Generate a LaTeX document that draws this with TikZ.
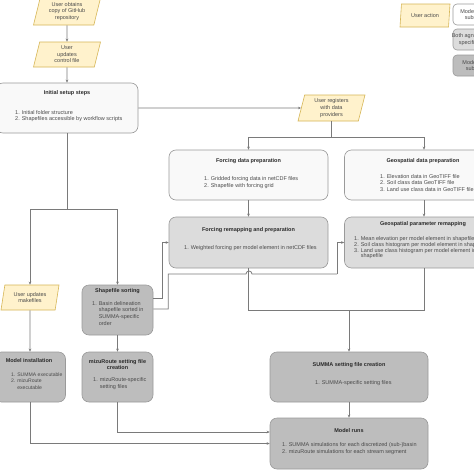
\documentclass[tikz,border=0pt]{standalone}
\usepackage{fontspec}
\setmainfont{Liberation Sans}
\usetikzlibrary{arrows.meta,shapes.geometric,calc}
\definecolor{parfill}{HTML}{FFF2CC}
\definecolor{parline}{HTML}{D6B656}
\definecolor{cW}{HTML}{F9F9F9}
\definecolor{cL}{HTML}{DCDCDC}
\definecolor{cD}{HTML}{BDBDBD}
\definecolor{boxline}{HTML}{9A9A9A}
\definecolor{linec}{HTML}{7A7A7A}
\definecolor{titlec}{HTML}{2A2A2A}
\definecolor{itemc}{HTML}{4A4A4A}
\tikzset{
  box/.style={draw=boxline, rounded corners=7pt, line width=0.6pt, inner sep=0pt},
  ttl/.style={font=\fontsize{5.5}{6.8}\selectfont\bfseries, text=titlec, align=center, inner sep=0pt},
  itm/.style={font=\fontsize{5.5}{6.7}\selectfont, text=itemc, align=left, inner sep=0pt, anchor=west},
  para/.style={trapezium, trapezium left angle=70, trapezium right angle=110, trapezium stretches body,
    draw=parline, fill=parfill, line width=0.6pt, inner sep=0pt, align=center, text=itemc,
    font=\fontsize{5.5}{6.6}\selectfont},
  ln/.style={draw=linec, line width=0.8pt},
  arr/.style={ln, -{Stealth[length=3pt,width=2.6pt]}},
}
\newcommand{\ind}{\phantom{1. }}
\begin{document}
\begin{tikzpicture}[x=1pt,y=-1pt]
\path[use as bounding box] (0,0) rectangle (474,474);
\clip (0,0) rectangle (474,474);
\fill[white] (0,0) rectangle (474,474);

% parallelograms (user actions)
\node[para, minimum width=67, minimum height=27] (p1) at (67,11.5) {User obtains\\copy of GitHub\\repository};
\node[para, minimum width=67, minimum height=25] (p2) at (67,54.5) {User\\updates\\control file};
\node[para, minimum width=67, minimum height=26] (p3) at (331.5,108) {User registers\\with data\\providers};
\node[para, minimum width=58, minimum height=25] (p4) at (30,297.5) {User updates\\makefiles};
\node[para, minimum width=50, minimum height=23] (leg) at (425,15.5) {User action};

% legend boxes
\node[box, rounded corners=4pt, fill=white, minimum width=50, minimum height=21] (lg1) at (478,14.5) {};
\node[itm, anchor=center, align=center] (lg1t) at (479,14.5) {Model-agnostic\\subroutines};
\node[box, rounded corners=4pt, fill=cL, minimum width=50, minimum height=21] (lg2) at (478,39.5) {};
\node[itm, anchor=center, align=center] (lg2t) at (483,39.5) {Both agnostic and model-\\specific subroutines};
\node[box, rounded corners=4pt, fill=cD, minimum width=50, minimum height=21] (lg3) at (478,65.5) {};
\node[itm, anchor=center, align=center] (lg3t) at (480,65.5) {Model-specific\\subroutines};

% boxes
\node[box, fill=cW, minimum width=142, minimum height=50] (init) at (67,108) {};
\node[ttl] (initT) at (67,93) {Initial setup steps};
\node[itm] (initI) at (15,116) {1. Initial folder structure\\2. Shapefiles accessible by workflow scripts};

\node[box, fill=cW, minimum width=159, minimum height=50] (fdp) at (248.5,175) {};
\node[ttl] (fdpT) at (248.5,161) {Forcing data preparation};
\node[itm] (fdpI) at (204,182.5) {1. Gridded forcing data in netCDF files\\2. Shapefile with forcing grid};

\node[box, fill=cW, minimum width=159, minimum height=50] (gdp) at (424,175) {};
\node[ttl] (gdpT) at (423,161) {Geospatial data preparation};
\node[itm] (gdpI) at (380,183) {1. Elevation data in GeoTIFF file\\2. Soil class data GeoTIFF file\\3. Land use class data in GeoTIFF file};

\node[box, fill=cL, minimum width=159, minimum height=51] (frp) at (248.5,242.5) {};
\node[ttl] (frpT) at (248.5,230) {Forcing remapping and preparation};
\node[itm] (frpI) at (184,248.5) {1. Weighted forcing per model element in netCDF files};

\node[box, fill=cL, minimum width=159, minimum height=51] (grp) at (424,242.5) {};
\node[ttl] (grpT) at (423,224) {Geospatial parameter remapping};
\node[itm, font=\fontsize{5.5}{5.9}\selectfont] (grpI) at (354,247.7) {1. Mean elevation per model element in shapefile\\2. Soil class histogram per model element in shapefile\\3. Land use class histogram per model element in\\\ind shapefile};

\node[box, fill=cD, minimum width=71, minimum height=50] (ss) at (117.5,310) {};
\node[ttl] (ssT) at (117.5,291) {Shapefile sorting};
\node[itm] (ssI) at (92,313.3) {1. Basin delineation\\\ind shapefile sorted in\\\ind SUMMA-specific\\\ind order};

\node[box, fill=cD, minimum width=71, minimum height=50] (mi) at (30,377) {};
\node[ttl] (miT) at (29,361) {Model installation};
\node[itm, font=\fontsize{5.1}{6.7}\selectfont] (miI) at (11,381) {1. SUMMA executable\\2. mizuRoute\\\ind executable};

\node[box, fill=cD, minimum width=71, minimum height=50] (mz) at (117.5,377) {};
\node[ttl] (mzT) at (117.5,364.5) {mizuRoute setting file\\creation};
\node[itm] (mzI) at (93,383.5) {1. mizuRoute-specific\\\ind setting files};

\node[box, fill=cD, minimum width=158, minimum height=50] (ssf) at (349,377) {};
\node[ttl] (ssfT) at (349,365) {SUMMA setting file creation};
\node[itm] (ssfI) at (315,383) {1. SUMMA-specific setting files};

\node[box, fill=cD, minimum width=158, minimum height=51] (mr) at (349,443.5) {};
\node[ttl] (mrT) at (349,431) {Model runs};
\node[itm] (mrI) at (282,448.5) {1. SUMMA simulations for each discretized (sub-)basin\\2. mizuRoute simulations for each stream segment};

% coordinates
\coordinate (j1) at (331.5,137);
\coordinate (j2) at (67,209);
\coordinate (h1) at (246,274);
\coordinate (h2) at (337,274);
\coordinate (c1) at (248.5,310);
\coordinate (c2) at (424,310);
\coordinate (c3) at (349,310);

% connectors
\draw[arr] (p1) -- (p2);
\draw[arr] (p2) -- (init);
\draw[arr] (init) -- (p3);
\draw[ln] (p3) -- (j1);
\draw[arr] (j1) -| (fdp);
\draw[arr] (j1) -| (gdp);
\draw[arr] (fdp) -- (frp);
\draw[arr] (gdp) -- (grp);
\draw[ln] (init) -- (j2);
\draw[arr] (j2) -| (p4);
\draw[arr] (j2) -| (ss);
\draw[arr] (p4) -- (mi);
\draw[arr] (ss) -- (mz);
\draw[arr] ([yshift=12pt]ss.east) -- ++(9,0) |- (frp.west);
\draw[ln] ([yshift=1pt]ss.east) -- ++(15,0) |- (h1) arc (180:360:3) -- (h2);
\draw[arr] (h2) |- (grp.west);
\draw[ln] (frp.south) -- (c1) -- (c2) -- (grp.south);
\draw[arr] (c3) -- (ssf);
\draw[arr] (ssf) -- (mr);
\draw[arr] (mz.south) |- ([yshift=11.5pt]mr.west);
\draw[arr] (mi.south) |- (mr.west);
\end{tikzpicture}
\end{document}
